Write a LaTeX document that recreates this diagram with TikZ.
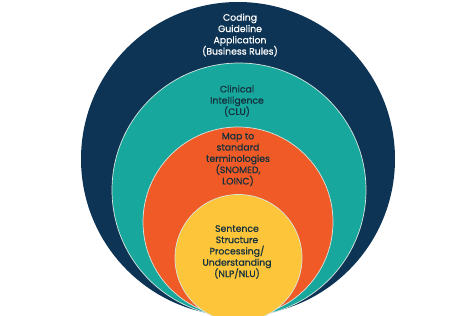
\documentclass[tikz,border=0pt]{standalone}
\usepackage{fontspec}
\setmainfont{Poppins}[FakeBold=0.6]
\definecolor{navy}{HTML}{0E3455}
\definecolor{tealc}{HTML}{17A79D}
\definecolor{orangec}{HTML}{EF5A26}
\definecolor{yellowc}{HTML}{FCC53A}
\definecolor{rimc}{HTML}{D8E6DF}
\definecolor{darktxt}{HTML}{15303D}
\tikzset{
  ring/.style={draw=rimc, line width=0.7pt},
  lbl/.style={align=center, font=\fontsize{9.3}{11.3}\selectfont, inner sep=0pt}
}
\begin{document}
\begin{tikzpicture}[x=1pt,y=1pt]
\useasboundingbox (0,0) rectangle (474,316);
\fill[navy] (238,157) circle (157);
\path[ring, fill=tealc] (239,126) circle (127);
\path[ring, fill=orangec] (238,94) circle (95);
\path[ring, fill=yellowc] (238.5,58) circle (63.5);
\node[lbl, text=white] (t1) at (240,281) {Coding\\Guideline\\Application\\(Business Rules)};
\node[lbl, text=darktxt] (t2) at (237,215) {Clinical\\Intelligence\\(CLU)};
\node[lbl, text=darktxt] (t3) at (238,156.5) {Map to\\standard\\terminologies\\(SNOMED,\\LOINC)};
\node[lbl, text=darktxt] (t4) at (237,64) {Sentence\\Structure\\Processing/\\Understanding\\(NLP/NLU)};
\end{tikzpicture}
\end{document}
